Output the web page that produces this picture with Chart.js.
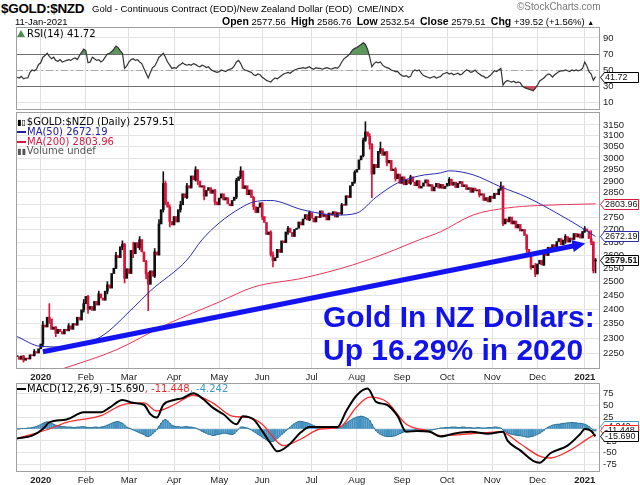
<!DOCTYPE html>
<html>
<head>
<meta charset="utf-8">
<title>Gold in NZ Dollars</title>
<script src="https://cdn.jsdelivr.net/npm/chart.js@4/dist/chart.umd.min.js"></script>
<style>
  body { margin: 0; background: #fff; }
  #page { position: relative; width: 640px; height: 485px; overflow: hidden; font-family: 'Liberation Sans', Arial, sans-serif; color: #000; }
  .pane { position: absolute; left: 0; }
  .pane canvas { display: block; }
  .t { position: absolute; white-space: nowrap; line-height: 1; }
  .leg { position: absolute; white-space: nowrap; line-height: 1; font-family: 'DejaVu Sans', Verdana, sans-serif; font-size: 10px; }
  .big { position: absolute; white-space: nowrap; line-height: 1; font-size: 30px; font-weight: bold; color: #1212ea; }
  .dash { display: inline-block; width: 9px; height: 2px; vertical-align: middle; margin-right: 1px; }
</style>
</head>
<body>
<div id="page">
  <div class="pane" style="top:27px"><canvas id="rsi-chart" width="640" height="83"></canvas></div>
  <div class="pane" style="top:112px"><canvas id="price-chart" width="640" height="272"></canvas></div>
  <div class="pane" style="top:383px"><canvas id="macd-chart" width="640" height="102"></canvas></div>

  <div class="t" style="left:1px;top:1.5px;font-size:13.5px;font-weight:bold;letter-spacing:-0.3px;">$GOLD:$NZD</div>
  <div class="t" style="left:92px;top:3.5px;font-size:9.5px;">Gold - Continuous Contract (EOD)/New Zealand Dollar (EOD) &nbsp;CME/INDX</div>
  <div class="t" style="left:517px;top:2px;font-size:10px;color:#777;">&copy;StockCharts.com</div>
  <div class="t" style="left:15px;top:16.5px;font-size:9.5px;">11-Jan-2021</div>
  <div class="t" style="left:222px;top:16px;font-size:9.5px;"><b style="font-size:10.5px">Open</b> 2577.56 &nbsp;<b style="font-size:10.5px">High</b> 2586.76 &nbsp;<b style="font-size:10.5px">Low</b> 2532.54 &nbsp;<b style="font-size:10.5px">Close</b> 2579.51 &nbsp;<b style="font-size:10.5px">Chg</b> +39.52 (+1.56%) <span style="font-size:7px">&#9650;</span></div>

  <div class="leg" style="left:17px;top:29px;"><span style="display:inline-block;width:0;height:0;border-left:4px solid transparent;border-right:4px solid transparent;border-bottom:7px solid #4f8a4f;margin-right:2px;"></span>RSI(14) 41.72</div>

  <div class="leg" style="left:17px;top:117px;"><span style="font-size:8px;margin-right:1px;">&#9646;&#9647;</span>$GOLD:$NZD (Daily) 2579.51</div>
  <div class="leg" style="left:17px;top:127px;color:#2020a0;"><span class="dash" style="background:#2020a0"></span>MA(50) 2672.19</div>
  <div class="leg" style="left:17px;top:137px;color:#d8173f;"><span class="dash" style="background:#d8173f"></span>MA(200) 2803.96</div>
  <div class="leg" style="left:17px;top:146px;color:#555;"><span style="font-size:8px;margin-right:1px;">&#9646;&#9646;</span>Volume undef</div>

  <div class="leg" style="left:17px;top:383.5px;"><span class="dash" style="background:#000"></span>MACD(12,26,9) -15.690<span style="color:#f02828">, -11.448</span><span style="color:#3a9ad0">, -4.242</span></div>

  <div class="big" style="left:323px;top:302px;">Gold In NZ Dollars:</div>
  <div class="big" style="left:323px;top:335px;">Up 16.29% in 2020</div>
</div>

<script>
//Axis ticks (index = trading day, 0 = 16-Dec-2019)
var monthIdx = [11, 32, 52, 73, 94, 114, 137, 158, 179, 200, 221, 242, 264];
var monthLabels = ['2020', 'Feb', 'Mar', 'Apr', 'May', 'Jun', 'Jul', 'Aug', 'Sep', 'Oct', 'Nov', 'Dec', '2021'];
var priceTicks = [2250, 2300, 2350, 2400, 2450, 2500, 2550, 2600, 2650, 2700, 2750, 2800, 2850, 2900, 2950, 3000, 3050, 3100, 3150];
var rsiTicks = [10, 30, 50, 70, 90];
var macdTicks = [-75, -50, -25, 0, 25, 50, 75];
var rsiLevels = [30, 50, 70];

//Daily closes
var closes = [
  2238, 2229, 2240, 2226, 2233, 2230, 2244, 2241, 2255, 2250,
  2264, 2280, 2345, 2338, 2372, 2366, 2330, 2338, 2316, 2330,
  2322, 2314, 2330, 2325, 2342, 2330, 2350, 2344, 2372, 2362,
  2398, 2420, 2446, 2400, 2410, 2396, 2428, 2415, 2455, 2440,
  2432, 2465, 2488, 2476, 2530, 2550, 2598, 2590, 2632, 2642,
  2512, 2548, 2530, 2618, 2605, 2648, 2628, 2660, 2612, 2575,
  2528, 2490, 2540, 2520, 2612, 2600, 2722, 2780, 2890, 2812,
  2790, 2732, 2718, 2752, 2730, 2780, 2800, 2846, 2830, 2880,
  2870, 2922, 2905, 2948, 2900, 2874, 2880, 2836, 2860, 2872,
  2848, 2862, 2812, 2800, 2828, 2846, 2820, 2830, 2804, 2796,
  2818, 2832, 2902, 2918, 2944, 2868, 2880, 2842, 2862, 2830,
  2792, 2768, 2790, 2808, 2752, 2728, 2680, 2690, 2600, 2578,
  2590, 2622, 2610, 2655, 2648, 2690, 2705, 2688, 2672, 2700,
  2705, 2730, 2718, 2742, 2760, 2738, 2768, 2745, 2730, 2752,
  2748, 2775, 2752, 2760, 2738, 2766, 2758, 2772, 2750, 2768,
  2762, 2800, 2798, 2838, 2830, 2880, 2895, 2938, 2950, 2992,
  3010, 3080, 3118, 3098, 3062, 2930, 2972, 2958, 3030, 3042,
  3012, 3028, 2978, 2990, 2945, 2952, 2910, 2930, 2890, 2918,
  2884, 2905, 2890, 2918, 2896, 2880, 2902, 2870, 2878, 2892,
  2905, 2878, 2885, 2858, 2875, 2890, 2870, 2886, 2868, 2878,
  2890, 2908, 2882, 2895, 2872, 2890, 2898, 2876, 2884, 2864,
  2872, 2852, 2870, 2858, 2862, 2840, 2846, 2818, 2830, 2812,
  2836, 2826, 2848, 2842, 2866, 2878, 2722, 2742, 2730, 2750,
  2722, 2734, 2706, 2720, 2694, 2700, 2676, 2622, 2596, 2552,
  2560, 2528, 2566, 2580, 2562, 2605, 2598, 2630, 2618, 2640,
  2628, 2652, 2664, 2640, 2658, 2672, 2650, 2666, 2660, 2684,
  2670, 2682, 2666, 2692, 2702, 2694, 2664, 2650, 2540, 2579.51
];
var lastOpen = 2577.56;

//Candles with visible shadows: day, low, high
var wickIdx = [3, 8, 12, 15, 18, 24, 31, 33, 38, 42, 46, 49, 50, 54, 57, 60, 61, 64, 66, 68, 69, 71, 76, 79, 83, 84, 87, 92, 102, 104, 110, 114, 118, 119, 126, 136, 151, 157, 161, 162, 164, 165, 169, 172, 176, 183, 201, 215, 225, 226, 237, 239, 241, 245, 255, 264, 267, 268, 269];
var wickLow = [2220, 2240, 2270, 2350, 2305, 2325, 2390, 2385, 2420, 2455, 2548, 2620, 2495, 2590, 2620, 2510, 2395, 2515, 2600, 2770, 2800, 2710, 2770, 2825, 2900, 2885, 2820, 2800, 2825, 2910, 2780, 2740, 2595, 2555, 2680, 2735, 2760, 2890, 3005, 3075, 3040, 2830, 3020, 2965, 2900, 2885, 2880, 2832, 2860, 2715, 2610, 2545, 2518, 2560, 2645, 2688, 2640, 2532, 2532.54];
var wickHigh = [2242, 2262, 2358, 2420, 2340, 2350, 2435, 2450, 2465, 2500, 2610, 2655, 2645, 2650, 2672, 2580, 2535, 2625, 2740, 2940, 2900, 2800, 2815, 2890, 2962, 2950, 2880, 2865, 2912, 2962, 2835, 2810, 2695, 2612, 2712, 2775, 2806, 2945, 3090, 3165, 3110, 3065, 3072, 3030, 2958, 2925, 2915, 2865, 2895, 2880, 2680, 2600, 2568, 2612, 2680, 2712, 2695, 2652, 2586.76];

//Moving averages
var ma50Idx = [0, 11, 23, 39, 54, 62, 79, 86, 94, 104, 110, 118, 133, 149, 158, 167, 177, 187, 197, 201, 212, 225, 237, 251, 262, 269];
var ma50Vals = [2305, 2272, 2270, 2305, 2405, 2466, 2581, 2659, 2726, 2787, 2812, 2818, 2779, 2758, 2766, 2832, 2892, 2922, 2935, 2944, 2927, 2875, 2832, 2766, 2710, 2672.19];
var ma200Idx = [0, 22, 46, 69, 94, 110, 133, 156, 172, 187, 197, 212, 228, 242, 269];
var ma200Vals = [2150, 2200, 2260, 2345, 2426, 2480, 2513, 2562, 2608, 2659, 2691, 2758, 2787, 2797, 2803.96];

//Hand drawn trend arrow
var trendIdx = [12, 262];
var trendVals = [2254, 2641];

//RSI(14)
var rsi = [
  41, 40, 42, 39, 40, 40, 47, 50, 49, 51,
  57, 59, 66, 68, 71, 67, 64, 66, 62, 61,
  63, 60, 61, 62, 63, 62, 64, 65, 63, 68,
  72, 76, 74, 59, 60, 66, 64, 62, 63, 60,
  62, 66, 70, 71, 73, 76, 80, 78, 74, 71,
  52, 55, 60, 63, 64, 62, 63, 60, 58, 52,
  46, 40, 47, 53, 55, 60, 66, 68, 71, 66,
  60, 56, 52, 53, 52, 55, 57, 59, 57, 56,
  57, 56, 58, 57, 55, 54, 56, 55, 53, 54,
  51, 49, 48, 47, 48, 50, 49, 48, 50, 51,
  52, 55, 60, 62, 58, 52, 50, 49, 48, 47,
  44, 43, 45, 44, 41, 39, 37, 36, 35, 38,
  40, 39, 41, 43, 45, 46, 47, 46, 48, 50,
  51, 52, 52, 53, 52, 53, 54, 52, 51, 53,
  52, 52, 51, 52, 53, 52, 51, 52, 53, 52,
  55, 60, 64, 66, 68, 71, 75, 77, 78, 80,
  82, 84, 82, 76, 66, 54, 58, 60, 59, 60,
  56, 54, 53, 52, 50, 49, 48, 48, 45, 43,
  42, 43, 41, 42, 48, 50, 49, 50, 46, 43,
  42, 41, 40, 41, 42, 40, 41, 42, 45, 46,
  47, 45, 46, 44, 45, 46, 44, 45, 48, 50,
  49, 47, 48, 50, 47, 45, 43, 42, 40, 41,
  43, 46, 49, 48, 50, 52, 31, 35, 37, 36,
  35, 36, 34, 35, 34, 30, 28, 27, 26, 25,
  24, 27, 31, 36, 38, 40, 43, 45, 44, 41,
  44, 46, 48, 49, 49, 50, 49, 48, 50, 49,
  50, 49, 50, 52, 60, 55, 48, 45, 37, 41.72
];

//MACD(12,26,9)
var macdIdx = [0, 7, 12, 15, 23, 31, 39, 43, 49, 54, 59, 62, 65, 68, 73, 77, 82, 86, 91, 96, 102, 105, 110, 114, 118, 121, 126, 132, 136, 141, 149, 153, 158, 163, 167, 172, 177, 181, 186, 192, 197, 203, 211, 219, 226, 228, 234, 240, 243, 248, 256, 262, 264, 267, 269];
var macdVals = [-20, -14, 0, 14, 20, 35, 35, 45, 61, 55, 51, 31, 24, 51, 61, 65, 75, 65, 45, 31, 10, 27, 20, -4, -31, -47, -35, -7, 4, 4, 4, 37, 71, 85, 57, 51, 27, -6, -4, -6, -16, -10, -6, -10, -6, -24, -45, -67, -71, -51, -35, -10, 0, -4, -15.69];
var signalIdx = [0, 15, 23, 39, 49, 59, 65, 73, 82, 91, 100, 108, 114, 121, 124, 132, 141, 150, 158, 164, 172, 181, 191, 197, 211, 225, 234, 243, 248, 257, 267, 269];
var signalVals = [-20, 0, 14, 28, 51, 55, 38, 51, 71, 55, 27, 24, 10, -27, -35, -21, 0, 4, 47, 67, 57, 10, -4, -14, -10, -6, -31, -57, -61, -45, -16, -11.448];
var hist = [
  0, 0, 1, 1, 1, 2, 2, 3, 4, 5,
  7, 9, 12, 14, 15, 14, 12, 10, 8, 7,
  6, 5, 5, 4, 4, 4, 3, 3, 4, 4,
  5, 5, 4, 3, 3, 3, 4, 4, 3, 4,
  5, 6, 8, 10, 12, 14, 15, 16, 14, 12,
  8, 4, 2, 0, -2, -4, -6, -8, -10, -12,
  -15, -16, -14, -10, -6, -1, 6, 12, 18, 20,
  17, 12, 8, 6, 5, 5, 4, 4, 5, 5,
  4, 4, 3, 2, 0, -2, -5, -7, -9, -11,
  -12, -14, -13, -12, -11, -10, -9, -9, -10, -11,
  -12, -10, -5, 0, 4, 4, 3, 2, 0, -2,
  -5, -8, -11, -14, -17, -20, -23, -26, -27, -26,
  -24, -20, -16, -12, -8, -4, 0, 4, 8, 11,
  14, 16, 16, 15, 14, 13, 11, 9, 7, 5,
  4, 3, 2, 2, 1, 1, 2, 2, 1, 2,
  3, 5, 8, 12, 15, 18, 21, 23, 25, 26,
  27, 26, 24, 22, 18, 10, 2, -4, -8, -11,
  -13, -15, -16, -16, -16, -15, -14, -12, -10, -8,
  -6, -5, -4, -3, -3, -2, -2, -3, -3, -4,
  -4, -4, -3, -2, -1, 0, 1, 2, 2, 3,
  3, 3, 4, 4, 4, 3, 3, 4, 4, 3,
  3, 3, 2, 2, 3, 3, 2, 2, 2, 3,
  3, 3, 4, 4, 3, 2, -2, -5, -8, -10,
  -11, -12, -13, -14, -14, -15, -16, -17, -17, -16,
  -15, -13, -11, -9, -6, -3, 1, 4, 6, 8,
  9, 10, 10, 11, 12, 12, 13, 13, 14, 13,
  13, 12, 12, 11, 10, 8, 5, 1, -3, -4.242
];

var FONT = "'Liberation Sans', Arial, sans-serif";
var UP = '#111111';
var DOWN = '#d8143a';
var TREND = '#1414f0';

function toPoints(idx, vals) {
  var out = [];
  for (var i = 0; i < idx.length; i++) {
    out.push({ x: idx[i], y: vals[i] });
  }
  return out;
}

//candle bodies: open is the previous close
var bodies = [];
var bodyColors = [];
for (var i = 0; i < closes.length; i++) {
  var prev = i > 0 ? closes[i - 1] : closes[0];
  var open = (i === closes.length - 1) ? lastOpen : prev;
  bodies.push({ x: i, y: [open, closes[i]] });
  bodyColors.push(closes[i] >= prev ? UP : DOWN);
}
var wicks = [];
var wickColors = [];
for (var k = 0; k < wickIdx.length; k++) {
  wicks.push({ x: wickIdx[k], y: [wickLow[k], wickHigh[k]] });
  wickColors.push(bodyColors[wickIdx[k]]);
}
var rsiPoints = rsi.map(function (v, i) { return { x: i, y: v }; });
var histPoints = hist.map(function (v, i) { return { x: i, y: v }; });

function xAxis(labelHeight) {
  return {
    type: 'linear',
    min: -0.5,
    max: 271.1,
    offset: false,
    afterBuildTicks: function (scale) {
      scale.ticks = monthIdx.map(function (v) { return { value: v }; });
    },
    afterFit: function (scale) {
      scale.height = labelHeight;
      scale.paddingLeft = 0;
      scale.paddingRight = 0;
    },
    grid: { color: '#e0e0e0', drawTicks: false, offset: false },
    border: { display: false },
    ticks: {
      display: labelHeight > 0,
      autoSkip: false,
      maxRotation: 0,
      padding: 3,
      color: '#222',
      font: function (c) {
        var lab = monthLabels[c.index] || '';
        return { family: FONT, size: 9.5, weight: lab.length === 4 ? 'bold' : 'normal' };
      },
      callback: function (v, idx) { return monthLabels[idx]; }
    }
  };
}

function yAxis(tickList, min, max, type) {
  return {
    type: type,
    position: 'right',
    min: min,
    max: max,
    afterBuildTicks: function (scale) {
      scale.ticks = tickList.map(function (v) { return { value: v }; });
    },
    //fixed axis width, and no extra room for half labels
    afterFit: function (scale) {
      scale.width = 40;
      scale.paddingTop = 0;
      scale.paddingBottom = 0;
    },
    grid: { color: '#e4e4e4', drawTicks: false },
    border: { display: false },
    ticks: {
      autoSkip: false,
      padding: 3,
      color: '#222',
      font: { family: FONT, size: 9.5 },
      callback: function (v) { return String(v); }
    }
  };
}

function baseOptions(xLabelHeight, y) {
  return {
    responsive: false,
    animation: false,
    events: [],
    layout: { padding: { left: 16, right: 0, top: 0, bottom: 0 } },
    plugins: { legend: { display: false }, tooltip: { enabled: false } },
    scales: { x: xAxis(xLabelHeight), y: y }
  };
}

//grey frame round the plot area
var frame = {
  id: 'frame',
  afterDatasetsDraw: function (chart) {
    var a = chart.chartArea;
    var ctx = chart.ctx;
    ctx.save();
    ctx.strokeStyle = '#a0a0a0';
    ctx.lineWidth = 1;
    ctx.strokeRect(a.left + 0.5, a.top + 0.5, a.right - a.left - 1, a.bottom - a.top - 1);
    ctx.restore();
  }
};

//value tags on the right axis
function tagPlugin(items) {
  return {
    id: 'tags',
    afterDraw: function (chart) {
      var ctx = chart.ctx;
      var ys = chart.scales.y;
      var x0 = chart.chartArea.right;
      items.forEach(function (t) {
        var y = Math.round(ys.getPixelForValue(t.value) + (t.nudge || 0)) + 0.5;
        ctx.save();
        ctx.beginPath();
        ctx.moveTo(x0 + 0.5, y);
        ctx.lineTo(x0 + 4.5, y - 5);
        ctx.lineTo(638.5, y - 5);
        ctx.lineTo(638.5, y + 5);
        ctx.lineTo(x0 + 4.5, y + 5);
        ctx.closePath();
        ctx.fillStyle = '#fff';
        ctx.fill();
        ctx.strokeStyle = t.color;
        ctx.lineWidth = 1;
        ctx.stroke();
        ctx.fillStyle = '#111';
        ctx.font = (t.bold ? 'bold ' : '') + '9px ' + FONT;
        ctx.textBaseline = 'middle';
        ctx.fillText(t.text, x0 + 5, y + 0.5);
        ctx.restore();
      });
    }
  };
}

//overbought / oversold lines
var rsiLines = {
  id: 'rsiLines',
  beforeDatasetsDraw: function (chart) {
    var ctx = chart.ctx;
    var a = chart.chartArea;
    var ys = chart.scales.y;
    rsiLevels.forEach(function (v) {
      var py = Math.round(ys.getPixelForValue(v)) + 0.5;
      ctx.save();
      ctx.beginPath();
      if (v === 50) {
        ctx.setLineDash([7, 3, 2, 3]);
        ctx.strokeStyle = '#a8a8a8';
      } else {
        ctx.strokeStyle = '#707070';
      }
      ctx.lineWidth = 1;
      ctx.moveTo(a.left, py);
      ctx.lineTo(a.right, py);
      ctx.stroke();
      ctx.restore();
    });
  }
};

//arrow head on the trend line
var arrowHead = {
  id: 'arrowHead',
  afterDatasetsDraw: function (chart) {
    var pts = chart.getDatasetMeta(0).data;
    var a = pts[pts.length - 2];
    var b = pts[pts.length - 1];
    var ang = Math.atan2(b.y - a.y, b.x - a.x);
    var ctx = chart.ctx;
    ctx.save();
    ctx.translate(b.x, b.y);
    ctx.rotate(ang);
    ctx.beginPath();
    ctx.moveTo(5, 0);
    ctx.lineTo(-8, -6);
    ctx.lineTo(-8, 6);
    ctx.closePath();
    ctx.fillStyle = TREND;
    ctx.fill();
    ctx.restore();
  }
};

var rsiChart = new Chart(document.getElementById('rsi-chart'), {
  type: 'line',
  data: {
    datasets: [
      {
        data: rsiPoints, borderColor: '#333', borderWidth: 1.2, pointRadius: 0,
        fill: { target: { value: 70 }, above: '#5c985c', below: 'rgba(0,0,0,0)' }
      },
      {
        data: rsiPoints, borderColor: 'rgba(0,0,0,0)', borderWidth: 1, pointRadius: 0,
        fill: { target: { value: 30 }, above: 'rgba(0,0,0,0)', below: '#c8505c' }
      }
    ]
  },
  options: baseOptions(0, yAxis(rsiTicks, 0, 103.75, 'linear')),
  plugins: [rsiLines, frame, tagPlugin([{ value: 41.72, text: '41.72', color: '#000' }])]
});

var priceChart = new Chart(document.getElementById('price-chart'), {
  type: 'bar',
  data: {
    datasets: [
      { type: 'line', data: toPoints(trendIdx, trendVals), borderColor: TREND, borderWidth: 5, pointRadius: 0, order: 0 },
      { type: 'line', data: toPoints(ma50Idx, ma50Vals), borderColor: '#2b2bb0', borderWidth: 1, pointRadius: 0, cubicInterpolationMode: 'monotone', order: 1 },
      { type: 'line', data: toPoints(ma200Idx, ma200Vals), borderColor: '#e8355a', borderWidth: 1, pointRadius: 0, cubicInterpolationMode: 'monotone', order: 2 },
      { data: bodies, backgroundColor: bodyColors, barThickness: 2, minBarLength: 1, grouped: false, order: 3 },
      { data: wicks, backgroundColor: wickColors, barThickness: 1, grouped: false, order: 4 }
    ]
  },
  options: baseOptions(15, yAxis(priceTicks, 2197.5, 3211, 'logarithmic')),
  plugins: [frame, arrowHead, tagPlugin([
    { value: 2803.96, text: '2803.96', color: '#d8173f' },
    { value: 2672.19, text: '2672.19', color: '#2b2bb0' },
    { value: 2579.51, text: '2579.51', color: '#000', bold: true }
  ])]
});

var macdChart = new Chart(document.getElementById('macd-chart'), {
  type: 'bar',
  data: {
    datasets: [
      { type: 'line', data: toPoints(macdIdx, macdVals), borderColor: '#000', borderWidth: 2, pointRadius: 0, cubicInterpolationMode: 'monotone', order: 0 },
      { type: 'line', data: toPoints(signalIdx, signalVals), borderColor: '#ff2a2a', borderWidth: 1.3, pointRadius: 0, cubicInterpolationMode: 'monotone', order: 1 },
      { type: 'line', data: histPoints, borderColor: '#23698e', borderWidth: 0.8, pointRadius: 0, order: 2 },
      { data: histPoints, backgroundColor: '#4592c0', barThickness: 1.6, grouped: false, order: 3 }
    ]
  },
  options: baseOptions(13, yAxis(macdTicks, -90.5, 96.8, 'linear')),
  plugins: [frame, tagPlugin([
    { value: -4.242, text: '-4.242', color: '#3a9ad0', nudge: -5 },
    { value: -11.448, text: '-11.448', color: '#ff2a2a', nudge: -4 },
    { value: -15.69, text: '-15.690', color: '#000' }
  ])]
});
</script>
</body>
</html>
